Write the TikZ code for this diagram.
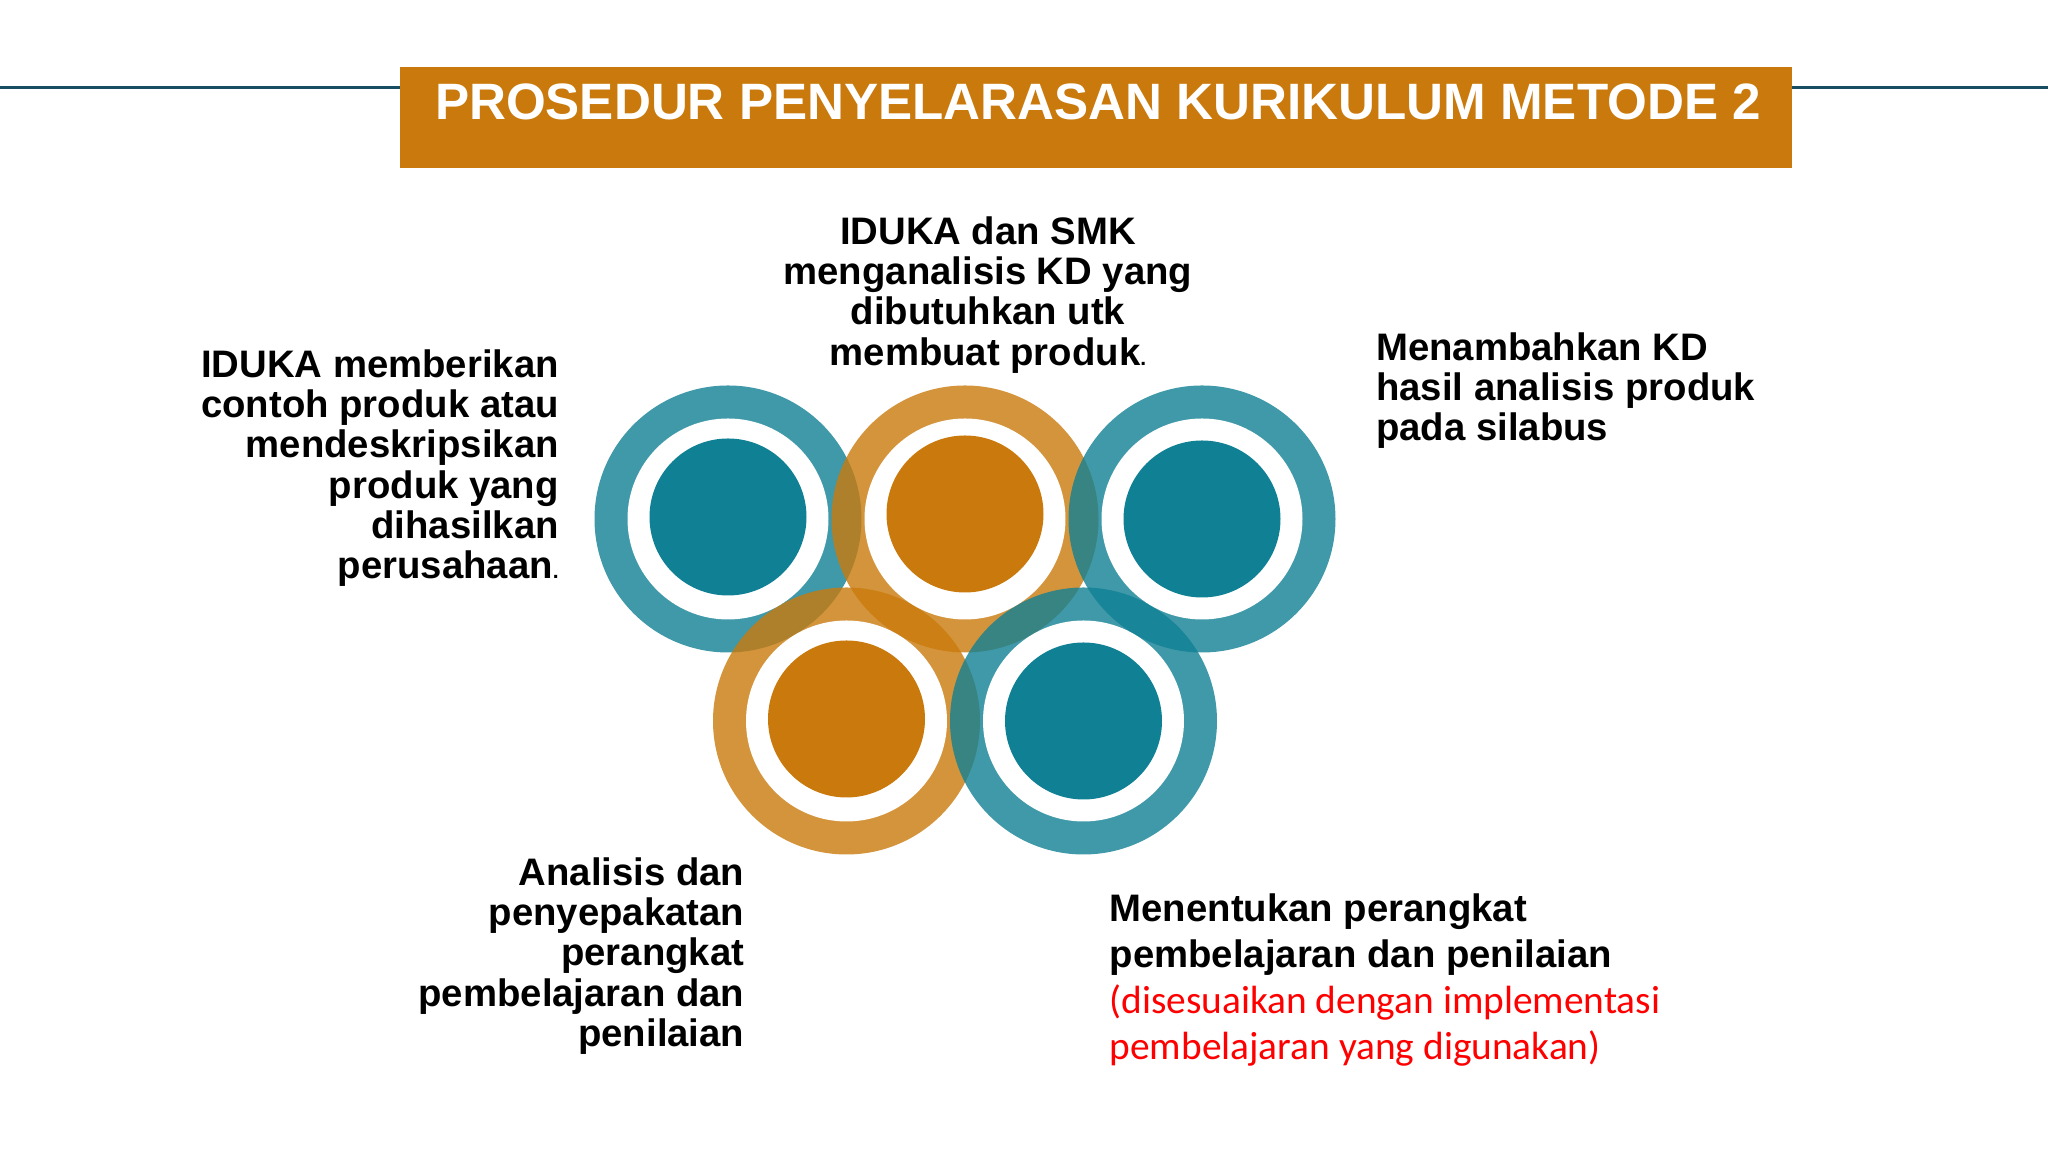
\documentclass[tikz,border=0pt]{standalone}
\usepackage{fontspec}
\usepackage{tikz}
\setmainfont{Liberation Sans}
\newfontfamily\notefont{Carlito}

\definecolor{barorange}{RGB}{202,122,12}
\definecolor{ringteal}{RGB}{16,128,148}
\definecolor{ruleteal}{RGB}{23,78,98}

\tikzset{
  outerdisc/.style={shape=circle,inner sep=0pt,minimum size=2.67cm,opacity=0.8},
  whitedisc/.style={shape=circle,inner sep=0pt,minimum size=2.01cm,fill=white},
  innerdisc/.style={shape=circle,inner sep=0pt,minimum size=1.57cm},
  txt/.style={inner sep=0pt,font=\fontsize{10.9}{11.45}\selectfont\bfseries},
}

\begin{document}
\begin{tikzpicture}
        \useasboundingbox[fill=white] (0,0) rectangle (20.48,11.52);

        \coordinate (rl) at (0,10.645);
        \coordinate (rr) at (20.48,10.645);
        \draw[ruleteal,line width=0.7pt] (rl) -- (rr);
        \node[fill=barorange,inner sep=0pt,minimum width=13.92cm,minimum height=1.01cm] (bar) at (10.96,10.345) {};
        \node[anchor=base,inner sep=0pt,text=white,font=\fontsize{14.55}{16}\selectfont\bfseries] (title) at (10.98,10.327) {PROSEDUR PENYELARASAN KURIKULUM METODE 2};

        \node[outerdisc,fill=ringteal]   (A) at (7.28,6.33) {};
        \node[outerdisc,fill=barorange]  (B) at (9.65,6.33) {};
        \node[outerdisc,fill=ringteal]   (C) at (12.02,6.33) {};
        \node[outerdisc,fill=barorange]  (D) at (8.465,4.31) {};
        \node[outerdisc,fill=ringteal]   (E) at (10.835,4.31) {};

        \node[whitedisc] at (A) {};
        \node[whitedisc] at (B) {};
        \node[whitedisc] at (C) {};
        \node[whitedisc] at (D) {};
        \node[whitedisc] at (E) {};

        \node[innerdisc,fill=ringteal]  (A1) at ([yshift=0.2mm]A) {};
        \node[innerdisc,fill=barorange] (B1) at ([yshift=0.5mm]B) {};
        \node[innerdisc,fill=ringteal]  (C1) at (C) {};
        \node[innerdisc,fill=barorange] (D1) at ([yshift=0.2mm]D) {};
        \node[innerdisc,fill=ringteal]  (E1) at (E) {};

        \node[txt,align=right,anchor=north east] (give) at (5.595,8.03) {IDUKA memberikan\\contoh produk atau\\mendeskripsikan\\produk yang\\dihasilkan\\perusahaan{\fontsize{6}{6}\selectfont.}};
        \node[txt,align=center,anchor=north] (analyse) at (9.88,9.36) {IDUKA dan SMK\\menganalisis KD yang\\dibutuhkan utk\\membuat produk{\fontsize{6}{6}\selectfont.}};
        \node[txt,align=left,anchor=north west] (add) at (13.755,8.20) {Menambahkan KD\\hasil analisis produk\\pada silabus};
        \node[txt,align=right,anchor=north east] (agree) at (7.45,2.95) {Analisis dan\\penyepakatan\\perangkat\\pembelajaran dan\\penilaian};
        \node[txt,align=left,anchor=north west,font=\fontsize{10.9}{13.1}\selectfont\bfseries] (set) at (11.09,2.59) {Menentukan perangkat\\pembelajaran dan penilaian\\{\notefont\mdseries\fontsize{11.2}{13.1}\selectfont\color{red}(disesuaikan dengan implementasi}\\{\notefont\mdseries\fontsize{11.2}{13.1}\selectfont\color{red}pembelajaran yang digunakan)}};
    \end{tikzpicture}
\end{document}
